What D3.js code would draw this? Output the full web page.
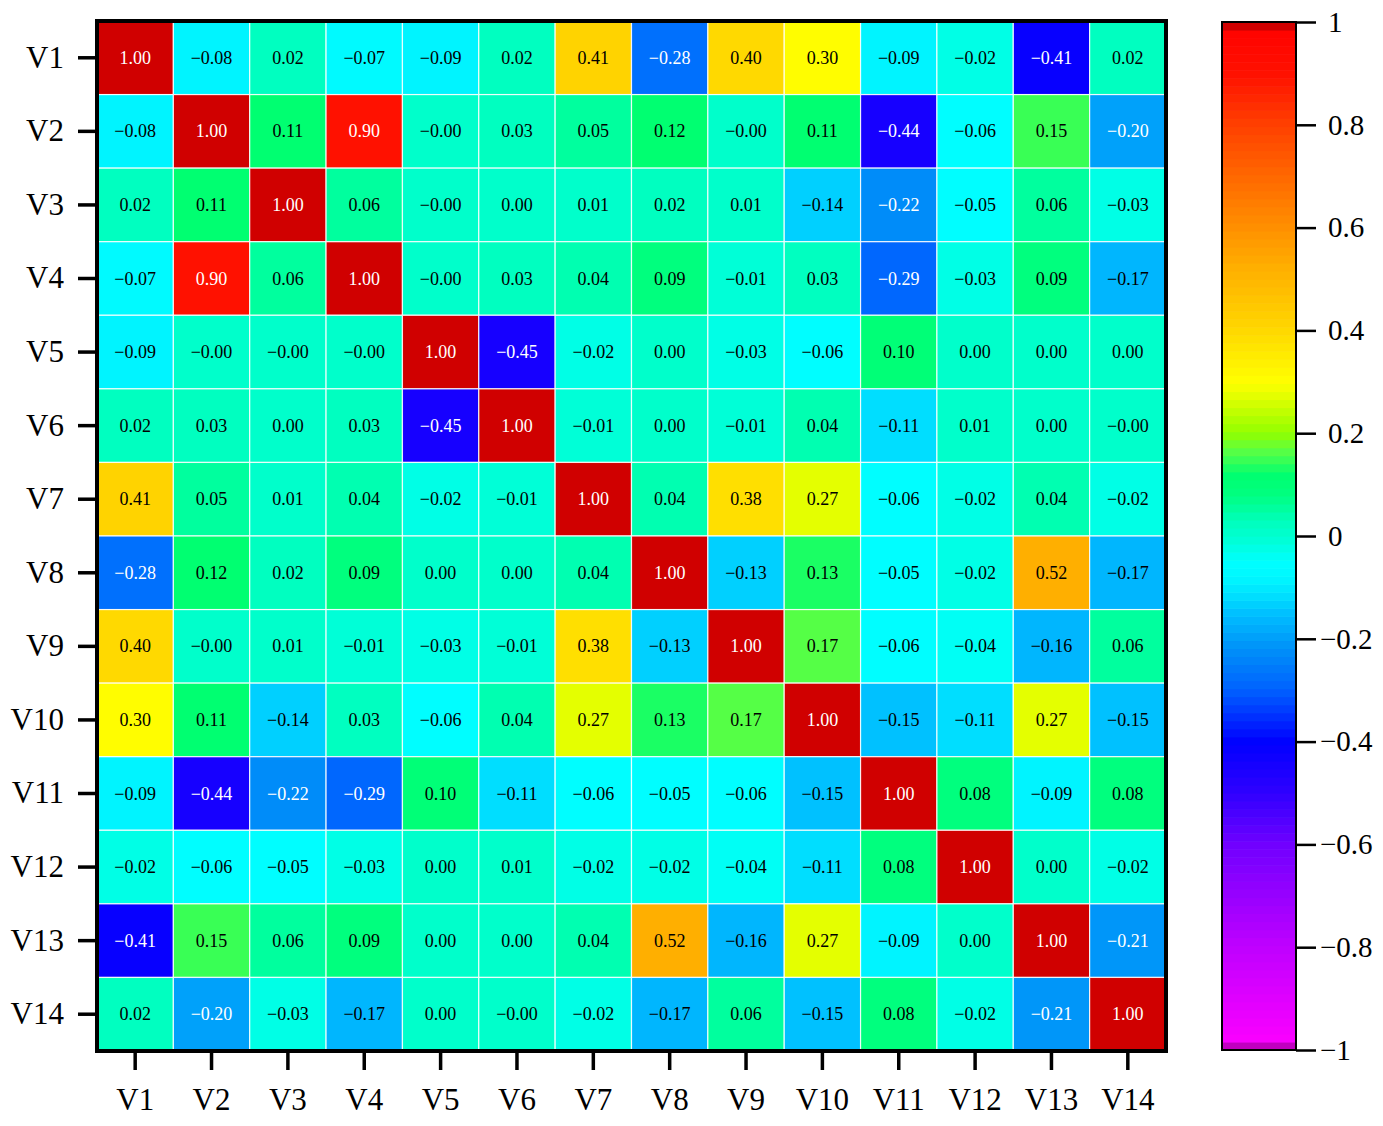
<!DOCTYPE html>
<html>
<head>
<meta charset="utf-8">
<script src="https://cdn.jsdelivr.net/npm/d3@7"></script>
<style>
  html, body { margin: 0; padding: 0; background: #fff; }
  svg { display: block; }
  svg text { font-family: "Liberation Serif", "Times New Roman", Times, "DejaVu Serif", serif !important; }
</style>
</head>
<body>
<svg id="chart" width="1383" height="1126"></svg>
<script>
// ---------- data ----------
const variables = ["V1","V2","V3","V4","V5","V6","V7","V8","V9","V10","V11","V12","V13","V14"];

const rowV1  = [ 1.00, -0.08,  0.02, -0.07, -0.09,  0.02,  0.41, -0.28,  0.40,  0.30, -0.09, -0.02, -0.41,  0.02];
const rowV2  = [-0.08,  1.00,  0.11,  0.90, -0.00,  0.03,  0.05,  0.12, -0.00,  0.11, -0.44, -0.06,  0.15, -0.20];
const rowV3  = [ 0.02,  0.11,  1.00,  0.06, -0.00,  0.00,  0.01,  0.02,  0.01, -0.14, -0.22, -0.05,  0.06, -0.03];
const rowV4  = [-0.07,  0.90,  0.06,  1.00, -0.00,  0.03,  0.04,  0.09, -0.01,  0.03, -0.29, -0.03,  0.09, -0.17];
const rowV5  = [-0.09, -0.00, -0.00, -0.00,  1.00, -0.45, -0.02,  0.00, -0.03, -0.06,  0.10,  0.00,  0.00,  0.00];
const rowV6  = [ 0.02,  0.03,  0.00,  0.03, -0.45,  1.00, -0.01,  0.00, -0.01,  0.04, -0.11,  0.01,  0.00, -0.00];
const rowV7  = [ 0.41,  0.05,  0.01,  0.04, -0.02, -0.01,  1.00,  0.04,  0.38,  0.27, -0.06, -0.02,  0.04, -0.02];
const rowV8  = [-0.28,  0.12,  0.02,  0.09,  0.00,  0.00,  0.04,  1.00, -0.13,  0.13, -0.05, -0.02,  0.52, -0.17];
const rowV9  = [ 0.40, -0.00,  0.01, -0.01, -0.03, -0.01,  0.38, -0.13,  1.00,  0.17, -0.06, -0.04, -0.16,  0.06];
const rowV10 = [ 0.30,  0.11, -0.14,  0.03, -0.06,  0.04,  0.27,  0.13,  0.17,  1.00, -0.15, -0.11,  0.27, -0.15];
const rowV11 = [-0.09, -0.44, -0.22, -0.29,  0.10, -0.11, -0.06, -0.05, -0.06, -0.15,  1.00,  0.08, -0.09,  0.08];
const rowV12 = [-0.02, -0.06, -0.05, -0.03,  0.00,  0.01, -0.02, -0.02, -0.04, -0.11,  0.08,  1.00,  0.00, -0.02];
const rowV13 = [-0.41,  0.15,  0.06,  0.09,  0.00,  0.00,  0.04,  0.52, -0.16,  0.27, -0.09,  0.00,  1.00, -0.21];
const rowV14 = [ 0.02, -0.20, -0.03, -0.17,  0.00, -0.00, -0.02, -0.17,  0.06, -0.15,  0.08, -0.02, -0.21,  1.00];

const rows = [rowV1,rowV2,rowV3,rowV4,rowV5,rowV6,rowV7,rowV8,rowV9,rowV10,rowV11,rowV12,rowV13,rowV14];

const colorbarTicks = [1, 0.8, 0.6, 0.4, 0.2, 0, -0.2, -0.4, -0.6, -0.8, -1];

// colour map stops (jet-like)
const stopValues = [-1, -0.8, -0.6, -0.5, -0.4, -0.3, -0.22, -0.15, -0.12, -0.08, -0.05, 0, 0.03, 0.08, 0.12, 0.15, 0.17, 0.2, 0.27, 0.3, 0.4, 0.52, 0.6, 0.8, 0.9, 1];
const stopColors = ["#ff00ff","#c000ff","#7000ff","#3000ff","#0000ff","#0060ff","#0090f8","#00c0ff","#00dcff","#00f8ff","#00ffff","#00ffd0","#00ffbc","#00ff80","#00ff70","#3cff54","#60ff40","#90ff00","#e0ff00","#ffff00","#ffd800","#ffb000","#ff9000","#ff4000","#ff1000","#ff0000"];

// ---------- layout ----------
const plot = {left: 97, top: 21, right: 1166, bottom: 1051};
const cbar = {left: 1222, right: 1296, top: 22, bottom: 1050};
const NBINS = 128;
const SERIF = "'Liberation Serif', 'Times New Roman', Times, serif";

const svg = d3.select("#chart");

const x = d3.scaleBand().domain(variables).range([plot.left, plot.right]).padding(0);
const y = d3.scaleBand().domain(variables).range([plot.top, plot.bottom]).padding(0);

const baseColor = d3.scaleLinear().domain(stopValues).range(stopColors).interpolate(d3.interpolateRgb).clamp(true);
const binWidth = 2 / NBINS;
function color(v) {
  if (v >= 1 - binWidth) return "#d00000";
  if (v <= -1 + binWidth) return "#c000c0";
  const b = Math.floor((v + 1) / binWidth);
  return baseColor(-1 + (b + 0.5) * binWidth);
}
function fmt(v) {
  const neg = v < 0 || Object.is(v, -0);
  return (neg ? "\u2212" : "") + Math.abs(v).toFixed(2);
}

const cells = [];
rows.forEach((r, i) => r.forEach((v, j) => cells.push({row: variables[i], col: variables[j], v})));

// cells
svg.append("g").selectAll("rect").data(cells).join("rect")
  .attr("x", d => x(d.col))
  .attr("y", d => y(d.row))
  .attr("width", x.bandwidth())
  .attr("height", y.bandwidth())
  .attr("fill", d => color(d.v))
  .attr("stroke", "#ffffff")
  .attr("stroke-opacity", 0.85)
  .attr("stroke-width", 1.2);

svg.append("g").selectAll("text").data(cells).join("text")
  .attr("x", d => x(d.col) + x.bandwidth() / 2)
  .attr("y", d => y(d.row) + y.bandwidth() / 2)
  .attr("text-anchor", "middle")
  .attr("dominant-baseline", "central")
  .attr("font-family", SERIF)
  .attr("font-size", 18)
  .attr("fill", d => (d.v <= -0.195 || d.v >= 0.6) ? "#ffffff" : "#000000")
  .text(d => fmt(d.v));

// frame
svg.append("rect")
  .attr("x", plot.left).attr("y", plot.top)
  .attr("width", plot.right - plot.left).attr("height", plot.bottom - plot.top)
  .attr("fill", "none").attr("stroke", "#000").attr("stroke-width", 4);

// axes
const yAxis = d3.axisLeft(y).tickSize(17).tickPadding(14);
const xAxis = d3.axisBottom(x).tickSize(17).tickPadding(18);

const gy = svg.append("g").attr("transform", `translate(${plot.left - 2},0)`).call(yAxis);
const gx = svg.append("g").attr("transform", `translate(0,${plot.bottom + 2})`).call(xAxis);
[gx, gy].forEach(g => {
  g.attr("font-family", SERIF);
  g.select(".domain").remove();
  g.selectAll(".tick line").attr("stroke", "#000").attr("stroke-width", 3.5);
  g.selectAll(".tick text").attr("font-size", 31).attr("fill", "#000");
});

// colour bar
const cy = d3.scaleLinear().domain([-1, 1]).range([cbar.bottom, cbar.top]);
const bins = d3.range(NBINS).map(i => -1 + i * binWidth);
svg.append("g").selectAll("rect").data(bins).join("rect")
  .attr("x", cbar.left)
  .attr("y", d => cy(d + binWidth))
  .attr("width", cbar.right - cbar.left)
  .attr("height", d => cy(d) - cy(d + binWidth) + 0.6)
  .attr("fill", d => color(d + binWidth / 2));
svg.append("rect")
  .attr("x", cbar.left).attr("y", cbar.top)
  .attr("width", cbar.right - cbar.left).attr("height", cbar.bottom - cbar.top)
  .attr("fill", "none").attr("stroke", "#000").attr("stroke-width", 2);

const cAxis = d3.axisRight(cy).tickValues(colorbarTicks).tickSize(20)
  .tickPadding(4)
  .tickFormat(v => (v < 0 ? "\u2212" : "") + d3.format("~g")(Math.abs(v)));
const gc = svg.append("g").attr("transform", `translate(${cbar.right},0)`).call(cAxis);
gc.attr("font-family", SERIF);
gc.select(".domain").remove();
gc.selectAll(".tick line").attr("stroke", "#000").attr("stroke-width", 2.5);
gc.selectAll(".tick text").attr("font-size", 29).attr("fill", "#000")
  .attr("dx", v => v >= 0 ? 8 : 0);
</script>
</body>
</html>
